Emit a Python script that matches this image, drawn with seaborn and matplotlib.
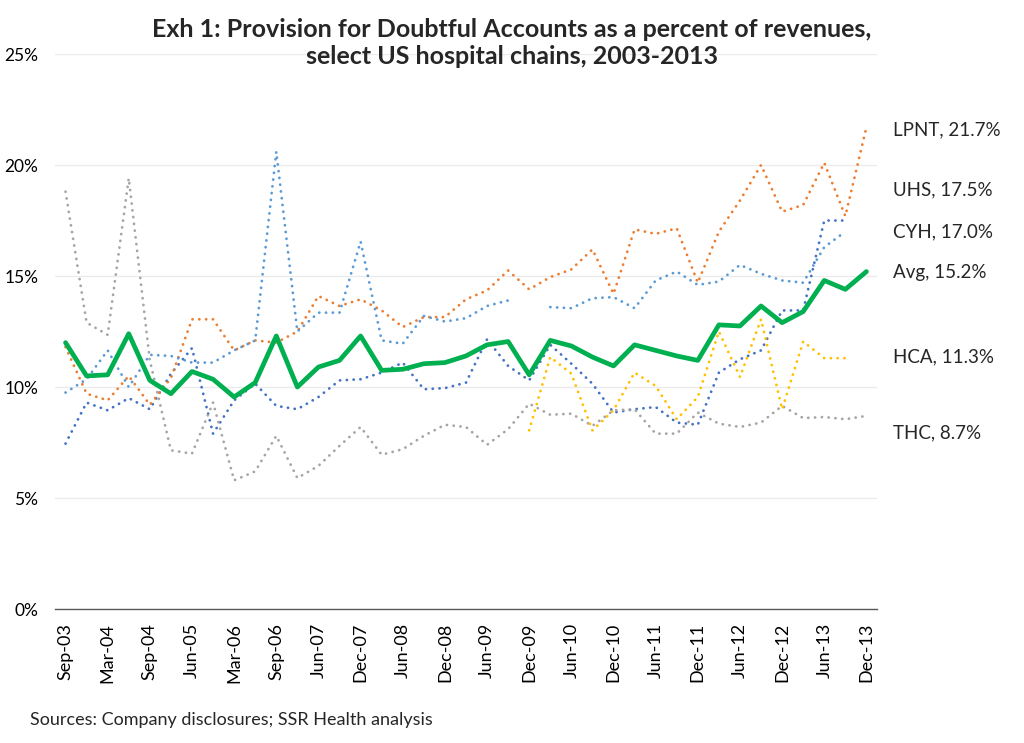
import numpy as np
import pandas as pd
import matplotlib
matplotlib.use("Agg")
import matplotlib.pyplot as plt
import matplotlib.transforms as mtransforms
from matplotlib.ticker import PercentFormatter
import seaborn as sns

nan = np.nan

# Quarterly periods (category axis, every other label shown)
quarters = ["Sep-03", "Dec-03", "Mar-04", "Jun-04", "Sep-04", "Dec-04", "Jun-05", "Dec-05",
            "Mar-06", "Jun-06", "Sep-06", "Dec-06", "Jun-07", "Sep-07", "Dec-07", "Mar-08",
            "Jun-08", "Sep-08", "Dec-08", "Mar-09", "Jun-09", "Sep-09", "Dec-09", "Mar-10",
            "Jun-10", "Sep-10", "Dec-10", "Mar-11", "Jun-11", "Sep-11", "Dec-11", "Mar-12",
            "Jun-12", "Sep-12", "Dec-12", "Mar-13", "Jun-13", "Sep-13", "Dec-13"]

# Provision for doubtful accounts, % of revenues
uhs = [7.45, 9.3, 8.95, 9.5, 9.0, 10.6, 11.75, 7.9, 9.4, 10.15,
       9.15, 9.0, 9.55, 10.3, 10.35, 10.65, 11.1, 9.9, 9.95, 10.2,
       12.15, 10.95, 10.3, 11.9, 11.05, 10.15, 8.85, 9.0, 9.1, 8.4,
       8.3, 10.65, 11.25, 11.65, 13.45, 13.45, 17.5, 17.5, nan]
lpnt = [11.8, 9.7, 9.4, 10.5, 9.2, 10.4, 13.05, 13.05, 11.65, 12.1,
        12.0, 12.5, 14.1, 13.65, 13.95, 13.45, 12.7, 13.15, 13.15, 13.95,
        14.35, 15.25, 14.4, 14.95, 15.3, 16.2, 14.2, 17.1, 16.9, 17.15,
        14.7, 17.0, 18.4, 20.0, 17.9, 18.2, 20.1, 17.7, 21.7]
thc = [18.8, 12.9, 12.35, 19.4, 11.2, 7.15, 7.0, 9.3, 5.8, 6.2,
       7.8, 5.9, 6.45, 7.35, 8.2, 6.95, 7.2, 7.8, 8.3, 8.2,
       7.4, 8.1, 9.25, 8.75, 8.8, 8.25, 8.95, 9.0, 7.9, 7.9,
       8.85, 8.35, 8.2, 8.4, 9.15, 8.6, 8.65, 8.55, 8.7]
hca = [nan] * 22 + [8.05, 11.35, 10.6, 8.05, 8.95, 10.65, 10.05, 8.55, 9.55, 12.5,
                    10.45, 13.05, 9.0, 12.05, 11.3, 11.3, nan]
cyh = [9.75, 10.35, 11.65, 10.0, 11.45, 11.4, 11.1, 11.1, 11.65, 12.1,
       20.6, 12.5, 13.35, 13.35, 16.55, 12.1, 11.95, 13.2, 12.95, 13.1,
       13.65, 13.9, nan, 13.6, 13.55, 14.0, 14.05, 13.55, 14.8, 15.2,
       14.6, 14.75, 15.5, 15.1, 14.8, 14.7, 16.3, 17.0, nan]
avg = [12.0, 10.5, 10.55, 12.4, 10.3, 9.7, 10.7, 10.35, 9.55, 10.2,
       12.3, 10.0, 10.9, 11.2, 12.3, 10.75, 10.8, 11.05, 11.1, 11.4,
       11.9, 12.05, 10.55, 12.1, 11.85, 11.35, 10.95, 11.9, 11.65, 11.4,
       11.2, 12.8, 12.75, 13.65, 12.9, 13.4, 14.8, 14.4, 15.2]

# End labels on the right
end_labels = ["LPNT, 21.7%", "UHS, 17.5%", "CYH, 17.0%", "Avg, 15.2%", "HCA, 11.3%", "THC, 8.7%"]
end_label_y = [21.6, 18.9, 17.0, 15.15, 11.35, 7.95]

series = {"UHS": uhs, "LPNT": lpnt, "THC": thc, "HCA": hca, "CYH": cyh, "Avg": avg}
colors = {"UHS": "#4472C4", "LPNT": "#ED7D31", "THC": "#A5A5A5",
          "HCA": "#FFC000", "CYH": "#5B9BD5", "Avg": "#00B050"}

# long format, with a segment id so gaps in the data stay gaps
rows = []
for name, vals in series.items():
    seg = 0
    for i, v in enumerate(vals):
        if np.isnan(v):
            seg += 1
            continue
        rows.append({"chain": name, "seg": seg, "q": i, "pct": v})
df = pd.DataFrame(rows)

sns.set_style("white")
plt.rcParams["font.family"] = ["Lato", "DejaVu Sans"]

fig = plt.figure(figsize=(10.24, 7.43), dpi=100)
ax = fig.add_axes([0.0537, 0.1803, 0.8027, 0.747])

for name in series:
    sub = df[df["chain"] == name]
    for seg, part in sub.groupby("seg"):
        if name == "Avg":
            sns.lineplot(data=part, x="q", y="pct", ax=ax, color=colors[name],
                         linewidth=3.4, zorder=5)
        else:
            line = sns.lineplot(data=part, x="q", y="pct", ax=ax, color=colors[name],
                                linewidth=2.0, zorder=3).lines[-1]
            # round dots, like Excel's "round dot" dash type
            line.set_linestyle((0, (0.05, 2.4)))
            line.set_dash_capstyle("round")

ax.set_xlim(-0.5, len(quarters) - 0.5)
ax.set_ylim(0, 25)
ax.set_yticks([0, 5, 10, 15, 20, 25])
ax.yaxis.set_major_formatter(PercentFormatter(xmax=100, decimals=0))
ax.set_xticks(range(0, len(quarters), 2))
ax.set_xticklabels(quarters[::2], rotation=90)
ax.tick_params(axis="y", length=0, pad=12, labelsize=12.5, colors="black")
ax.tick_params(axis="x", length=0, pad=10, labelsize=13, colors="black")
ax.set_xlabel("")
ax.set_ylabel("")
ax.grid(axis="y", color="#EBEBEB", linewidth=1)
ax.grid(axis="x", visible=False)
for s in ["top", "right", "left"]:
    ax.spines[s].set_visible(False)
ax.spines["bottom"].set_color("#595959")
ax.spines["bottom"].set_linewidth(1.0)

trans = mtransforms.blended_transform_factory(ax.transAxes, ax.transData)
for lab, y in zip(end_labels, end_label_y):
    ax.text(1.02, y, lab, transform=trans, ha="left", va="center", fontsize=13.5)

fig.text(0.5, 0.942, "Exh 1: Provision for Doubtful Accounts as a percent of revenues,\n"
         "select US hospital chains, 2003-2013",
         ha="center", va="center", fontsize=18, fontweight="bold", linespacing=1.2)
fig.text(0.029, 0.031, "Sources: Company disclosures; SSR Health analysis",
         ha="left", va="center", fontsize=13)

fig.savefig("out.png", dpi=100)
